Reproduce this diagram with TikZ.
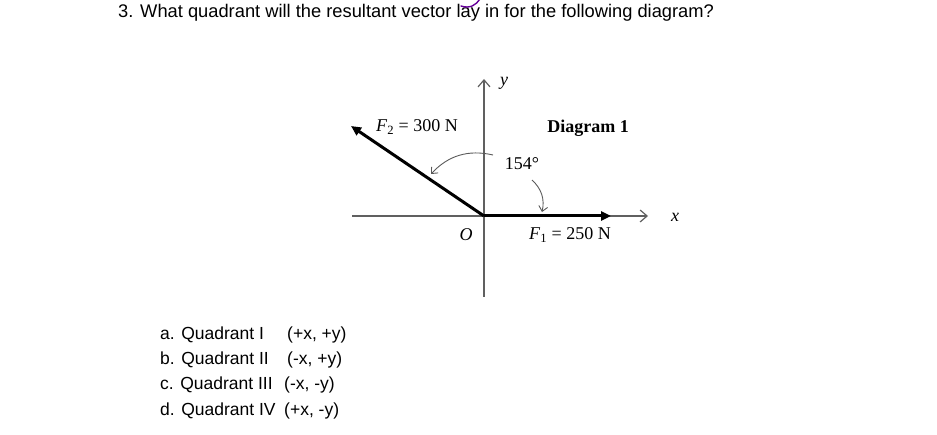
\documentclass[tikz,border=0pt]{standalone}
\usepackage{fontspec}
\setmainfont{Liberation Serif}
\setsansfont{Liberation Sans}
\usetikzlibrary{arrows.meta}
\tikzset{
    every node/.style={inner sep=0pt},
    ques/.style={font=\sffamily\fontsize{18.3}{22}\selectfont, anchor=base west},
    choice/.style={font=\sffamily\fontsize{17.5}{21}\selectfont, anchor=base west},
    lbl/.style={font=\fontsize{18}{20}\selectfont},
    axis/.style={draw=gray!75!black, line width=1.2pt, -{Straight Barb[length=7pt,width=12pt]}},
    force/.style={line width=3pt, -{Triangle[length=10pt,width=9pt]}},
    bendarrow/.style={draw=gray!70!black, line width=0.9pt, -{Straight Barb[length=5pt,width=9pt]}}
}

\begin{document}
\begin{tikzpicture}[x=1pt, y=-1pt]
    \useasboundingbox (0,0) rectangle (937,435);

    \node (title) [ques] at (118,18) {3. What quadrant will the resultant vector lay in for the following diagram?};
    \draw[violet!80!blue, line width=1.4pt, line cap=round] (461,6) .. controls (470,9) and (476,5) .. (480,-1);

    % axes
    \coordinate (O) at (484,216);
    \coordinate (xl) at (352,216);
    \coordinate (xr) at (648,216);
    \coordinate (yt) at (484,79);
    \coordinate (yb) at (484,297);
    \draw[axis] (xl) -- (xr);
    \draw[axis] (yb) -- (yt);
    \node (xlab) [lbl] at (675,217) {\textit{x}};
    \node (ylab) [lbl] at (504,83) {\textit{y}};
    \node (olab) [lbl] at (466,235) {\textit{O}};

    % forces
    \coordinate (f1) at (611,216);
    \coordinate (f2) at (351,126);
    \draw[force] (O) -- (f1);
    \draw[force] (O) -- (f2);
    \node (f1lab) [lbl] at (570,235) {\textit{F}\textsubscript{1} = 250 N};
    \node (f2lab) [lbl] at (417,127) {\textit{F}\textsubscript{2} = 300 N};
    \node (diag) [lbl, font=\bfseries\fontsize{18}{20}\selectfont] at (588,128) {Diagram 1};

    % angle
    \node (ang) [lbl] at (522,164) {154°};
    \coordinate (a1) at (493,155);
    \coordinate (a2) at (431,174);
    \coordinate (b1) at (532,180);
    \coordinate (b2) at (542,212);
    \draw[bendarrow] (a1) to[bend right=30] (a2);
    \draw[bendarrow] (b1) to[bend left=30] (b2);

    % choices
    \foreach \n/\q/\c/\yy/\xx in {qa/{a. Quadrant I}/{(+x, +y)}/340/287,
                                  qb/{b. Quadrant II}/{(-x, +y)}/365/287,
                                  qc/{c. Quadrant III}/{(-x, -y)}/390/284,
                                  qd/{d. Quadrant IV}/{(+x, -y)}/415/284}{
        \node (\n) [choice] at (160,\yy) {\q};
        \node (\n c) [choice] at (\xx,\yy) {\c};
    }
\end{tikzpicture}
\end{document}
